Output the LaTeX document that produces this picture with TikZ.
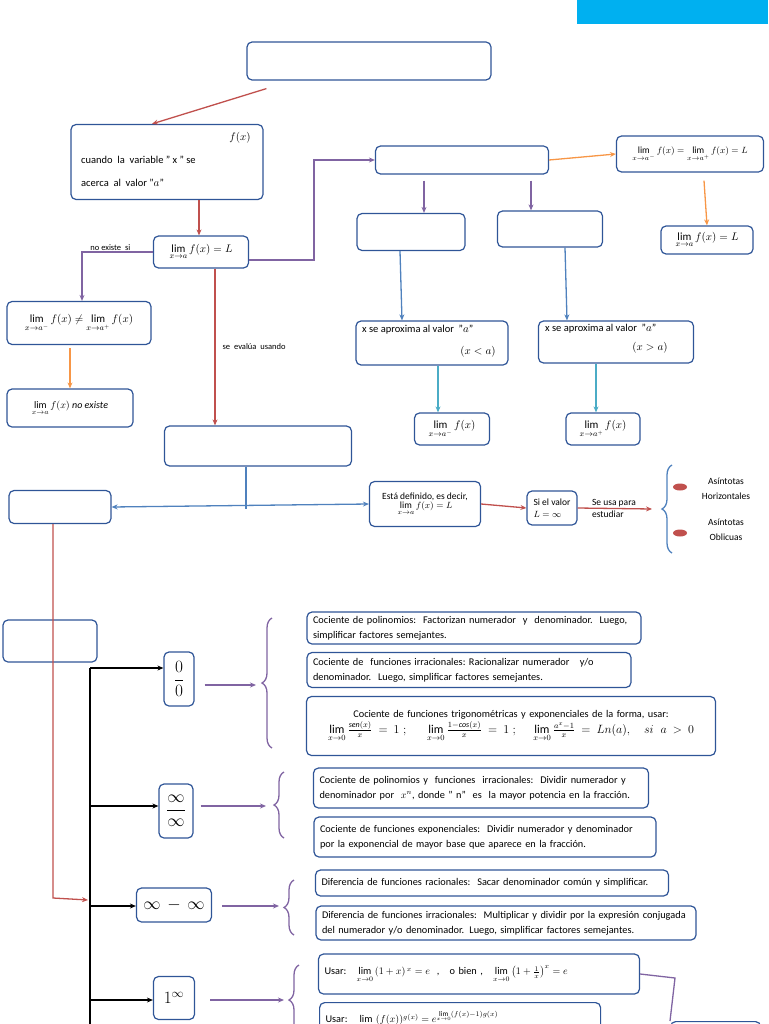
\documentclass[tikz,border=0pt]{standalone}
\usepackage{fontspec}
\setmainfont{Carlito}
\usepackage{amsmath}
\usetikzlibrary{arrows.meta,decorations.pathreplacing}
\definecolor{bblue}{RGB}{47,85,151}
\definecolor{cyanb}{RGB}{0,176,240}
\definecolor{rred}{RGB}{192,80,77}
\definecolor{ppur}{RGB}{128,100,162}
\definecolor{oor}{RGB}{247,150,70}
\definecolor{lblue}{RGB}{79,129,189}
\definecolor{ccy}{RGB}{75,172,198}
\begin{document}
\begin{tikzpicture}[x=1pt,y=-1pt,
 box/.style={draw=bblue,line width=1.2pt,rounded corners=5pt,inner sep=2pt,align=center,font=\fontsize{11}{13}\selectfont},
 tb/.style={box,align=left,inner xsep=6pt,font=\fontsize{10.3}{15}\selectfont},
 txt/.style={inner sep=1pt,font=\fontsize{10.5}{12.5}\selectfont,align=left,text=black},
 arr/.style={line width=1.3pt,-{Stealth[length=6pt,width=5pt]}},
 brc/.style={decorate,decoration={brace,amplitude=10pt},line width=1.3pt}]
\useasboundingbox (0,0) rectangle (768,1024);
\fill[cyanb] (577,0) rectangle (768,24);
% top area
\node[box,minimum width=244,minimum height=38] (title) at (369,61) {};
\node[box,minimum width=192,minimum height=75] (b1) at (167,162) {};
\node[txt] (fx) at (240,138) {$f(x)$};
\node[txt,anchor=west] (c1) at (80,160) {cuando\ \ la\ \ variable\ " x "\ se};
\node[txt,anchor=west] (c2) at (80,183) {acerca\ \ al\ \ valor\ "$a$"};
\node[box,minimum width=95,minimum height=32] (lim) at (201,252) {$\lim\limits_{x\to a} f(x)=L$};
\node[box,minimum width=144,minimum height=43] (neq) at (79,323) {$\lim\limits_{x\to a^-} f(x)\neq\lim\limits_{x\to a^+} f(x)$};
\node[box,minimum width=126,minimum height=38,font=\fontsize{10}{12}\selectfont] (noex) at (70,408) {$\lim\limits_{x\to a} f(x)\ \mathit{no\ existe}$};
\node[box,minimum width=173,minimum height=28] (um) at (462,160) {};
\node[box,minimum width=108,minimum height=37] (el) at (411,232) {};
\node[box,minimum width=105,minimum height=36] (er) at (550,229) {};
\node[box,minimum width=152,minimum height=44] (xl) at (432,343) {};
\node[txt,anchor=west] (xlt) at (361,330) {x se aproxima al valor\ \ "$a$"};
\node[txt] (xlm) at (478,352) {$(x<a)$};
\node[box,minimum width=155,minimum height=42] (xr) at (616,342) {};
\node[txt,anchor=west] (xrt) at (544,329) {x se aproxima al valor\ \ "$a$"};
\node[txt] (xrm) at (650,348) {$(x>a)$};
\node[box,minimum width=75,minimum height=32] (ll) at (452,429) {$\lim\limits_{x\to a^-} f(x)$};
\node[box,minimum width=74,minimum height=32] (lr) at (603,429) {$\lim\limits_{x\to a^+} f(x)$};
\node[box,minimum width=147,minimum height=36,font=\fontsize{9.5}{11}\selectfont] (eq) at (690,154) {$\lim\limits_{x\to a^-} f(x)=\lim\limits_{x\to a^+} f(x)=L$};
\node[box,minimum width=92,minimum height=28] (eqL) at (707,240) {$\lim\limits_{x\to a} f(x)=L$};
\node[box,minimum width=187,minimum height=40] (mid) at (258,446) {};
\node[box,minimum width=102,minimum height=33] (lft) at (60,507) {};
\node[box,minimum width=111,minimum height=45,font=\fontsize{9.5}{11}\selectfont] (def) at (425,504) {Está definido, es decir,\\[-2pt] $\lim\limits_{x\to a} f(x)=L$};
\node[box,minimum width=50,minimum height=34,inner sep=1pt,font=\fontsize{9.5}{12}\selectfont,align=left] (si) at (552,508) {Si el valor\\ $L=\infty$};
\node[txt,font=\fontsize{9.5}{12}\selectfont] (su) at (614,508) {Se usa para\\estudiar};
\coordinate (brtip) at (652,509);
\draw[brc,draw=lblue] (672,553) -- (672,465);
\fill[rred] (680,487) ellipse (7 and 3.5);
\fill[rred] (680,533) ellipse (7 and 3.5);
\node[txt,align=center,font=\fontsize{9.5}{15}\selectfont] (ah) at (726,489) {Asíntotas\\Horizontales};
\node[txt,align=center,font=\fontsize{9.5}{15}\selectfont] (ao) at (726,530) {Asíntotas\\Oblicuas};
% indeterminate forms
\node[box,minimum width=94,minimum height=42] (ind) at (50,641) {};
\node[box,minimum width=30,minimum height=54,font=\LARGE] (z) at (179,679) {$\dfrac{0}{0}$};
\node[box,minimum width=34,minimum height=54,font=\LARGE] (ii) at (176,811) {$\dfrac{\infty}{\infty}$};
\node[box,minimum width=75,minimum height=34,font=\LARGE] (im) at (174,905) {$\infty\,-\,\infty$};
\node[box,minimum width=41,minimum height=43,font=\LARGE] (one) at (174,998) {$1^\infty$};
\node[tb,minimum width=334,minimum height=32,text width=322] (t1) at (474,628) {Cociente de polinomios:\ \ Factorizan numerador\ \ y\ \ denominador.\ \ Luego,\\simplificar factores semejantes.};
\node[tb,minimum width=324,minimum height=35,text width=312] (t2) at (469,670) {Cociente de\ \ funciones irracionales:\ Racionalizar numerador\ \ \ y/o\\denominador.\ \ Luego, simplificar factores semejantes.};
\node[tb,minimum width=409,minimum height=59,text width=400,align=center,inner xsep=4pt] (t3) at (511,726) {Cociente de funciones trigonométricas y exponenciales de la forma, usar:\\[1pt]
\fontsize{12}{14}\selectfont$\lim\limits_{x\to0}\frac{\mathit{sen}(x)}{x}=1\ ;\quad\ \ \lim\limits_{x\to0}\frac{1-\mathit{cos}(x)}{x}=1\ ;\quad\ \lim\limits_{x\to0}\frac{a^x-1}{x}=Ln(a),\quad si\ \ a>0$};
\node[tb,minimum width=335,minimum height=40,text width=323] (t4) at (481,788) {Cociente de polinomios y\ \ funciones\ \ irracionales:\ \ Dividir numerador y\\denominador por\ \ $x^n$, donde " n"\ \ es\ \ la mayor potencia en la fracción.};
\node[tb,minimum width=342,minimum height=40,text width=330] (t5) at (485,837) {Cociente de funciones exponenciales:\ \ Dividir numerador y denominador\\por la exponencial de mayor base que aparece en la fracción.};
\node[tb,minimum width=353,minimum height=26,text width=341] (t6) at (492,883) {Diferencia de funciones racionales:\ \ Sacar denominador común y simplificar.};
\node[tb,minimum width=380,minimum height=34,text width=368] (t7) at (506,923) {Diferencia de funciones irracionales:\ \ Multiplicar y dividir por la expresión conjugada\\del numerador y/o denominador. Luego, simplificar factores semejantes.};
\node[tb,minimum width=321,minimum height=40,text width=309] (t8) at (479,974) {Usar:\quad $\lim\limits_{x\to0}\,(1+x)^{\,x}=e$\ \ ,\quad o bien ,\quad $\lim\limits_{x\to0}\left(1+\frac{1}{x}\right)^{x}=e$};
\node[tb,minimum width=281,minimum height=36,text width=269,anchor=north west] (t9) at (319,1002) {Usar:\quad $\lim\limits_{x\to0}\,(f(x))^{g(x)}=e^{\lim\limits_{x\to0}(f(x)-1)g(x)}$};
\node[box,minimum width=90,minimum height=20,anchor=north west] (t10) at (670,1021) {};
% braces
\draw[brc,draw=ppur] (272,748) -- (272,618);
\draw[brc,draw=ppur] (284,838) -- (284,772);
\draw[brc,draw=ppur] (294,935) -- (294,880);
\draw[brc,draw=ppur] (299,1035) -- (299,965);
\coordinate (k1) at (675,978);
\draw[ppur,line width=1.3pt] (t8.east) -- (k1) -- (t10.north west);
% connectors
\draw[arr,rred] (title.south west) ++(20,8) coordinate (r0) (r0) -- ([xshift=-15pt]b1.north);
\draw[arr,rred] ([xshift=32pt]b1.south) -- ([xshift=-2pt]lim.north);
\draw[arr,rred] ([xshift=14pt]lim.south) -- ([xshift=-43pt]mid.north) node[midway,right=6pt,txt,font=\fontsize{8.5}{10}\selectfont] {se\ \ evalúa\ \ usando};
\draw[arr,ppur] (lim.west) -| node[pos=0.3,above,txt,font=\fontsize{8.5}{10}\selectfont] {no existe\ \ si} ([xshift=3pt]neq.north);
\draw[arr,ppur] ([yshift=-8pt]lim.east) -- (314,260) |- (um.west);
\draw[arr,ppur] ([xshift=-38pt,yshift=-6pt]um.south) -- ([xshift=13pt]el.north);
\draw[arr,ppur] ([xshift=69pt,yshift=-6pt]um.south) -- ([xshift=-19pt]er.north);
\draw[arr,oor] (um.east) -- (eq.west);
\draw[arr,oor] ([xshift=14pt,yshift=-8pt]eq.south) -- (eqL.north);
\draw[arr,oor] ([xshift=-9pt,yshift=-3pt]neq.south) -- (noex.north);
\draw[arr,lblue] ([xshift=-11pt]el.south) -- ([xshift=-30pt]xl.north);
\draw[arr,lblue] ([xshift=15pt]er.south) -- ([xshift=-49pt]xr.north);
\draw[arr,ccy] ([xshift=6pt]xl.south) -- ([xshift=-14pt]ll.north);
\draw[arr,ccy] ([xshift=-20pt]xr.south) -- ([xshift=-7pt]lr.north);
\coordinate (j) at (246,509);
\draw[lblue,line width=1.3pt] ([xshift=-12pt]mid.south) -- (j);
\draw[lblue,line width=1.3pt,{Stealth[length=6pt,width=5pt]}-{Stealth[length=6pt,width=5pt]}] (lft.east) -- (def.west);
\draw[arr,rred] (def.east) -- (si.west);
\draw[arr,rred] (si.east) -- (brtip);
\coordinate (rb) at (53,898);
\draw[arr,rred] ([xshift=-7pt]lft.south) -- (rb) -- (88,900);
\coordinate (vtop) at (90,668);
\coordinate (vbot) at (90,1024);
\draw[line width=1.3pt] (vtop) -- (vbot);
\draw[arr] (vtop) -- (z.west |- vtop);
\draw[arr] (90,806) -- (ii.west |- 0,806);
\draw[arr] (90,906) -- (im.west |- 0,906);
\draw[arr] (90,1000) -- (one.west |- 0,1000);
\draw[arr,ppur] (z.east) ++(10,6) coordinate (p1) (p1) -- (256,685);
\draw[arr,ppur] (ii.east) ++(7,-5) coordinate (p2) (p2) -- (266,806);
\draw[arr,ppur] (im.east) ++(10,1) coordinate (p3) (p3) -- (279,906);
\draw[arr,ppur] (one.east) ++(15,2) coordinate (p4) (p4) -- (284,1000);
\end{tikzpicture}
\end{document}
